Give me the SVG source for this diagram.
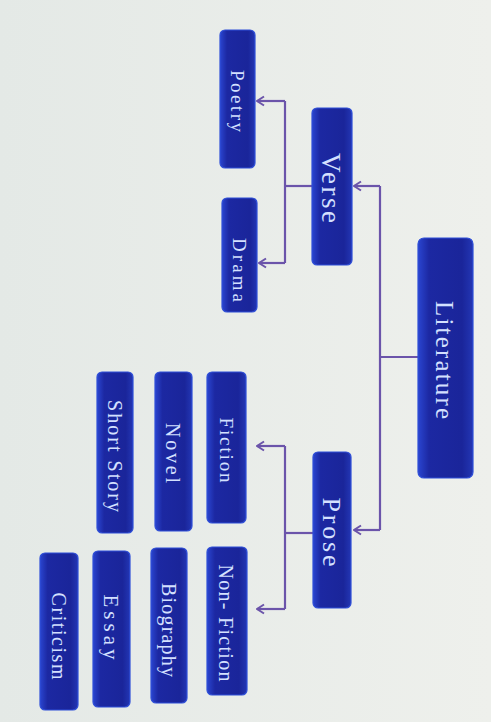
<svg xmlns="http://www.w3.org/2000/svg" width="491" height="722" viewBox="0 0 491 722">
<defs>
<linearGradient id="bg" x1="0" y1="0" x2="1" y2="0">
<stop offset="0" stop-color="#e4e9e6"/>
<stop offset="1" stop-color="#eef0ec"/>
</linearGradient>
<linearGradient id="box" x1="0" y1="0" x2="1" y2="0">
<stop offset="0" stop-color="#2a45d0"/>
<stop offset="0.2" stop-color="#1c28a2"/>
<stop offset="0.8" stop-color="#1a259a"/>
<stop offset="1" stop-color="#2336b4"/>
</linearGradient>
<marker id="arr" viewBox="-1 -6 9 12" refX="7" refY="0" markerWidth="9" markerHeight="12" markerUnits="userSpaceOnUse" orient="auto">
<path d="M0,-4.5 L7,0 L0,4.5" fill="none" stroke="#6b54aa" stroke-width="2" stroke-linejoin="miter"/>
</marker>
</defs>
<style>
.n rect { fill: url(#box); stroke: #2f4fd8; stroke-width: 1.2; }
.n text { font-family: "Liberation Serif", "Times New Roman", serif; fill: #d4e0ff; text-anchor: middle; dominant-baseline: central; }
.c path { fill: none; stroke: #6b54aa; stroke-width: 2.2; }
.c .a { marker-end: url(#arr); }
</style>
<rect x="0" y="0" width="491" height="722" fill="url(#bg)"/>
<g id="connectors" class="c">
<path d="M418,357 H380"/>
<path d="M380,186 V530"/>
<path class="a" d="M380,186 H354"/>
<path class="a" d="M380,530 H354"/>
<path d="M312,186 H285"/>
<path d="M285,101 V263"/>
<path class="a" d="M285,101 H257"/>
<path class="a" d="M285,263 H259"/>
<path d="M313,533 H285"/>
<path d="M285,446 V609"/>
<path class="a" d="M285,446 H257"/>
<path class="a" d="M285,609 H257"/>
</g>
<g id="literature" class="n"><rect x="418" y="238" width="55" height="240" rx="6"/><text x="0" y="0" font-size="25" textLength="118" lengthAdjust="spacing" transform="translate(444,360) rotate(90)">Literature</text></g>
<g id="verse" class="n"><rect x="312" y="108" width="40" height="157" rx="5"/><text x="0" y="0" font-size="27" textLength="70" lengthAdjust="spacing" transform="translate(331,188) rotate(90)">Verse</text></g>
<g id="prose" class="n"><rect x="313" y="452" width="38" height="156" rx="5"/><text x="0" y="0" font-size="26" textLength="69" lengthAdjust="spacing" transform="translate(331,532) rotate(90)">Prose</text></g>
<g id="poetry" class="n"><rect x="220" y="30" width="35" height="138" rx="5"/><text x="0" y="0" font-size="19" textLength="62" lengthAdjust="spacing" transform="translate(237,101) rotate(90)">Poetry</text></g>
<g id="drama" class="n"><rect x="222" y="198" width="35" height="114" rx="5"/><text x="0" y="0" font-size="19" textLength="64" lengthAdjust="spacing" transform="translate(239,270) rotate(90)">Drama</text></g>
<g id="fiction" class="n"><rect x="207" y="372" width="39" height="151" rx="5"/><text x="0" y="0" font-size="19" textLength="65" lengthAdjust="spacing" transform="translate(226,450) rotate(90)">Fiction</text></g>
<g id="novel" class="n"><rect x="155" y="372" width="37" height="159" rx="5"/><text x="0" y="0" font-size="20" textLength="60" lengthAdjust="spacing" transform="translate(173,453) rotate(90)">Novel</text></g>
<g id="short-story" class="n"><rect x="97" y="372" width="36" height="161" rx="5"/><text x="0" y="0" font-size="20" textLength="112" lengthAdjust="spacing" transform="translate(115,456) rotate(90)">Short Story</text></g>
<g id="non-fiction" class="n"><rect x="207" y="547" width="40" height="148" rx="5"/><text x="0" y="0" font-size="20" textLength="117" lengthAdjust="spacing" transform="translate(226,623) rotate(90)">Non- Fiction</text></g>
<g id="biography" class="n"><rect x="151" y="548" width="36" height="155" rx="5"/><text x="0" y="0" font-size="20" textLength="94" lengthAdjust="spacing" transform="translate(169,630) rotate(90)">Biography</text></g>
<g id="essay" class="n"><rect x="93" y="551" width="37" height="156" rx="5"/><text x="0" y="0" font-size="21" textLength="65" lengthAdjust="spacing" transform="translate(111,627) rotate(90)">Essay</text></g>
<g id="criticism" class="n"><rect x="40" y="553" width="38" height="157" rx="5"/><text x="0" y="0" font-size="20" textLength="87" lengthAdjust="spacing" transform="translate(59,636) rotate(90)">Criticism</text></g>
</svg>
